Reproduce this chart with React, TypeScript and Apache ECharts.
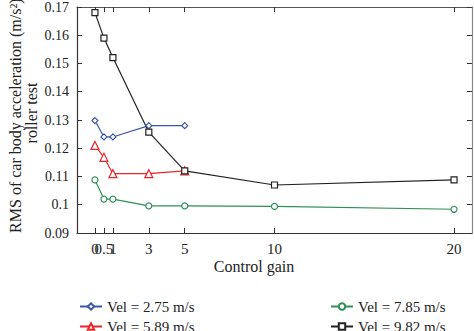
import React, { useEffect, useRef } from "react";
import * as echarts from "echarts";

const gains = [0, 0.5, 1, 3, 5, 10, 20];
const tickValues = [0, 0.5, 1, 3, 5, 10, 20];
const mainLabelValues = [0, 1, 3, 5, 10, 20];
const extraLabelValues = [0.5];
const vel275 = [0.1298, 0.124, 0.124, 0.128, 0.128];
const vel589 = [0.121, 0.1168, 0.111, 0.111, 0.112];
const vel785 = [0.1088, 0.102, 0.102, 0.0996, 0.0996, 0.0994, 0.0984];
const vel982 = [0.168, 0.159, 0.1521, 0.1257, 0.112, 0.107, 0.1088];
const seriesNames = ["Vel = 2.75 m/s", "Vel = 5.89 m/s", "Vel = 7.85 m/s", "Vel = 9.82 m/s"];
const colors = ["#3a58a8", "#e8262b", "#2f8f57", "#222222"];
const symbols = ["diamond", "triangle", "circle", "rect"];

const FONT = "Liberation Serif";

export default function App() {
  const ref = useRef<HTMLDivElement>(null);
  useEffect(() => {
    const chart = echarts.init(ref.current!, null, { renderer: "svg" });
    const datasets = [vel275, vel589, vel785, vel982];
    const series = datasets.map((vals, i) => ({
      name: seriesNames[i],
      type: "line",
      data: vals.map((v, j) => [gains[j], v]),
      symbol: symbols[i],
      symbolSize: i === 1 ? 8 : 6,
      showSymbol: true,
      lineStyle: { color: colors[i], width: 1.2 },
      itemStyle: { color: "#fff", borderColor: colors[i], borderWidth: 1.2 },
      color: colors[i],
    }));
    const legendPos = [
      [74, 294],
      [74, 314],
      [325, 294],
      [325, 314],
    ];
    const legends = seriesNames.map((n, i) => ({
      data: [n],
      left: legendPos[i][0],
      top: legendPos[i][1],
      itemWidth: 22,
      itemHeight: 8,
      textStyle: { fontFamily: FONT, fontSize: 15, color: "#222" },
    }));
    const tickStyle = { show: true, inside: true, length: 5, lineStyle: { color: "#333", width: 1 } };
    const xLabelBase = {
      hideOverlap: false,
      showMinLabel: true,
      showMaxLabel: true,
      fontFamily: FONT,
      fontSize: 15,
      color: "#222",
      margin: 8,
      formatter: (v: number) => String(v),
    };
    chart.setOption({
      animation: false,
      grid: { left: 77, top: 6, right: 2, bottom: 98, containLabel: false },
      xAxis: [
        {
          type: "value",
          min: -1,
          max: 21,
          axisLine: { onZero: false, lineStyle: { color: "#333", width: 1.2 } },
          axisTick: { ...tickStyle, customValues: tickValues },
          axisLabel: { ...xLabelBase, customValues: mainLabelValues },
          splitLine: { show: false },
        },
        {
          type: "value",
          position: "top",
          min: -1,
          max: 21,
          axisLine: { show: true, onZero: false, lineStyle: { color: "#555", width: 1.2 } },
          axisTick: { ...tickStyle, customValues: tickValues },
          axisLabel: { show: false },
          splitLine: { show: false },
        },
        {
          type: "value",
          position: "bottom",
          min: -1,
          max: 21,
          axisLine: { show: false, onZero: false },
          axisTick: { show: false },
          axisLabel: { ...xLabelBase, customValues: extraLabelValues },
          splitLine: { show: false },
        },
      ],
      yAxis: [
        {
          type: "value",
          min: 0.09,
          max: 0.17,
          interval: 0.01,
          axisLine: { show: true, onZero: false, lineStyle: { color: "#333", width: 1.2 } },
          axisTick: tickStyle,
          axisLabel: {
            fontFamily: FONT,
            fontSize: 14,
            color: "#222",
            margin: 8,
            hideOverlap: false,
            showMinLabel: true,
            showMaxLabel: true,
          },
          splitLine: { show: false },
        },
        {
          type: "value",
          position: "right",
          min: 0.09,
          max: 0.17,
          interval: 0.01,
          axisLine: { show: true, onZero: false, lineStyle: { color: "#888", width: 1.2 } },
          axisTick: tickStyle,
          axisLabel: { show: false },
          splitLine: { show: false },
        },
      ],
      legend: legends,
      graphic: [
        {
          type: "text",
          x: 254,
          y: 266,
          style: {
            text: "Control gain",
            fontFamily: FONT,
            fontSize: 16,
            fill: "#222",
            textAlign: "center",
            textVerticalAlign: "middle",
          },
        },
        {
          type: "text",
          x: 23,
          y: 113,
          rotation: Math.PI / 2,
          style: {
            text: "RMS of car body acceleration (m/s²)-\nroller test",
            fontFamily: FONT,
            fontSize: 16,
            lineHeight: 16,
            fill: "#222",
            textAlign: "center",
            textVerticalAlign: "middle",
          },
        },
      ],
      series,
    });
    return () => chart.dispose();
  }, []);
  return <div ref={ref} style={{ width: 474, height: 331, position: "absolute", left: 0, top: 0 }} />;
}
